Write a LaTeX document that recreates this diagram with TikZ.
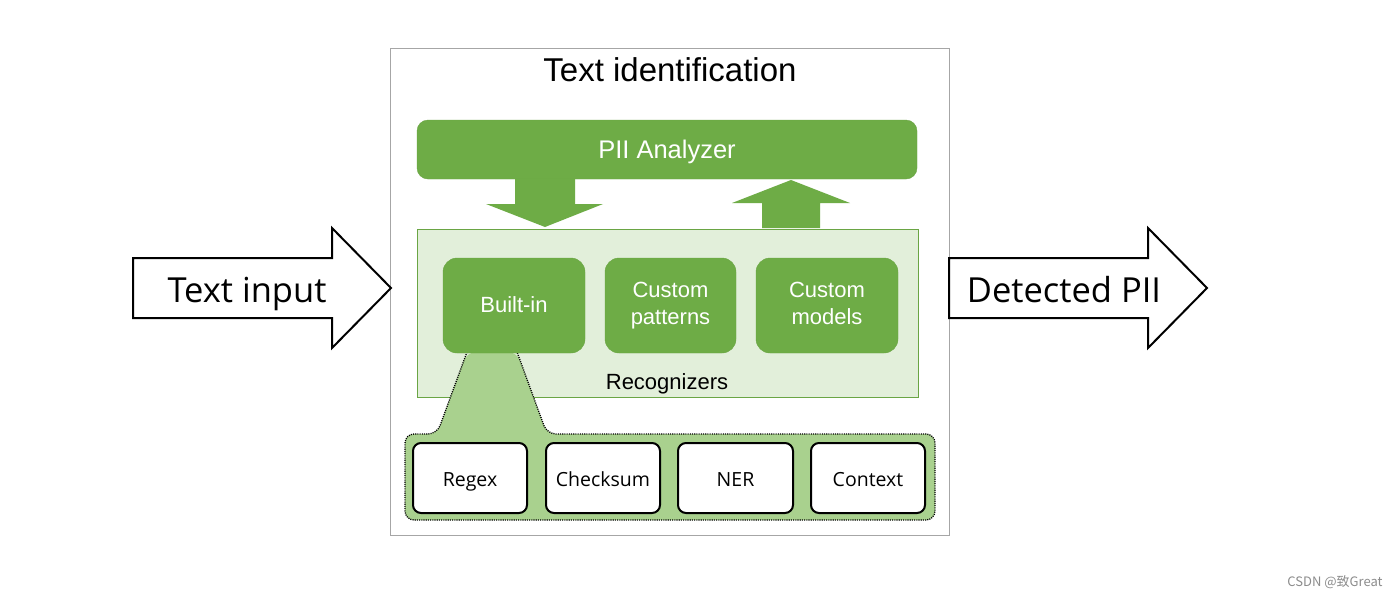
\documentclass[tikz,border=0pt]{standalone}
\usepackage{fontspec}
\setmainfont{Liberation Sans}
\newfontfamily\seg{Open Sans}
\newfontfamily\cjk{Noto Sans CJK SC}
\definecolor{gmain}{HTML}{6EAC46}
\definecolor{gedge}{HTML}{6AA544}
\definecolor{glight}{HTML}{E2EFDA}
\definecolor{gmid}{HTML}{A9D18E}
\definecolor{frame}{HTML}{A6A6A6}
\begin{document}
\begin{tikzpicture}[x=1pt,y=-1pt,
  greenbox/.style={draw=gedge,fill=gmain,rounded corners=14pt,inner sep=0pt,text=white,align=center,
     font=\fontsize{22}{27}\selectfont},
  whitebox/.style={draw=black,line width=2pt,fill=white,rounded corners=8pt,inner sep=0pt,
     minimum height=70pt,text height=16pt,text depth=0pt,font=\seg\fontsize{19.5}{24}\selectfont},
  blockarrow/.style={draw=black,line width=2pt,fill=white,line join=miter},
  bigarrowtext/.style={inner sep=0pt,anchor=base,font=\seg\fontsize{34.5}{40}\selectfont},
  greenarrow/.style={fill=gmain,draw=none}]
\useasboundingbox (0,0) rectangle (1400,598);
\fill[white] (0,0) rectangle (1400,598);

% outer frame
\node[draw=frame,line width=1pt,minimum width=559pt,minimum height=487pt,inner sep=0pt] (outer) at (669.5,291.5) {};
\node[font=\fontsize{33}{38}\selectfont,inner sep=0pt,anchor=base] (title) at (670,81) {Text identification};

% PII analyzer
\node[greenbox,text height=17pt,text depth=0pt,rounded corners=11pt,minimum width=500pt,minimum height=59pt,font=\fontsize{25.5}{30}\selectfont] (pii) at (667,149.5) {PII Analyzer};

% recognizers panel
\node[draw=gedge,fill=glight,line width=1pt,minimum width=501pt,minimum height=168pt,inner sep=0pt] (recog) at (667.5,313) {};
\node[inner sep=0pt,anchor=base,font=\fontsize{22}{27}\selectfont] (recoglabel) at (667,389) {Recognizers};

% green arrows between analyzer and recognizers
\fill[greenarrow] (515,179) -- (575,179) -- (575,204) -- (603,204) -- (545,227) -- (486,204) -- (515,204) -- cycle;
\fill[greenarrow] (762,228) -- (820,228) -- (820,203) -- (850,203) -- (791,180) -- (732,203) -- (762,203) -- cycle;

% callout with methods
\fill[gmid,rounded corners=9pt] (467,352) -- (437,434) -- (405,434) -- (405,520) -- (935,520) -- (935,434) -- (547,434) -- (517,352) -- cycle;
\draw[black,line width=1.3pt,dash pattern=on 1.1pt off 1.1pt,rounded corners=9pt]
  (467,352) -- (437,434) -- (405,434) -- (405,520) -- (935,520) -- (935,434) -- (547,434) -- (517,352);

% recognizer boxes
\node[greenbox,text height=14.5pt,text depth=0pt,minimum width=142pt,minimum height=95pt] (builtin) at (514,305.5) {Built-in};
\node[greenbox,minimum width=131pt,minimum height=95pt] (cpat) at (670.5,305.5) {Custom\strut\\patterns\strut};
\node[greenbox,minimum width=142pt,minimum height=95pt] (cmod) at (827,305.5) {Custom\strut\\models\strut};

% method boxes
\node[whitebox,minimum width=114pt] (regex) at (470,478) {Regex};
\node[whitebox,minimum width=114pt] (checksum) at (603,478) {Checksum};
\node[whitebox,minimum width=115pt] (ner) at (735.5,478) {NER};
\node[whitebox,minimum width=114pt] (context) at (868,478) {Context};

% input / output block arrows
\draw[blockarrow] (133,258) -- (332,258) -- (332,228) -- (391,288) -- (332,348) -- (332,318) -- (133,318) -- cycle;
\node[bigarrowtext] (textinput) at (247,302) {Text input};
\draw[blockarrow] (949,258) -- (1148,258) -- (1148,228) -- (1207,288) -- (1148,348) -- (1148,318) -- (949,318) -- cycle;
\node[bigarrowtext] (detected) at (1064,302) {Detected PII};

% watermark
\node[inner sep=0pt,text=black!45,font=\cjk\fontsize{13}{15}\selectfont] (wm) at (1335,582) {CSDN @致Great};
\end{tikzpicture}
\end{document}
